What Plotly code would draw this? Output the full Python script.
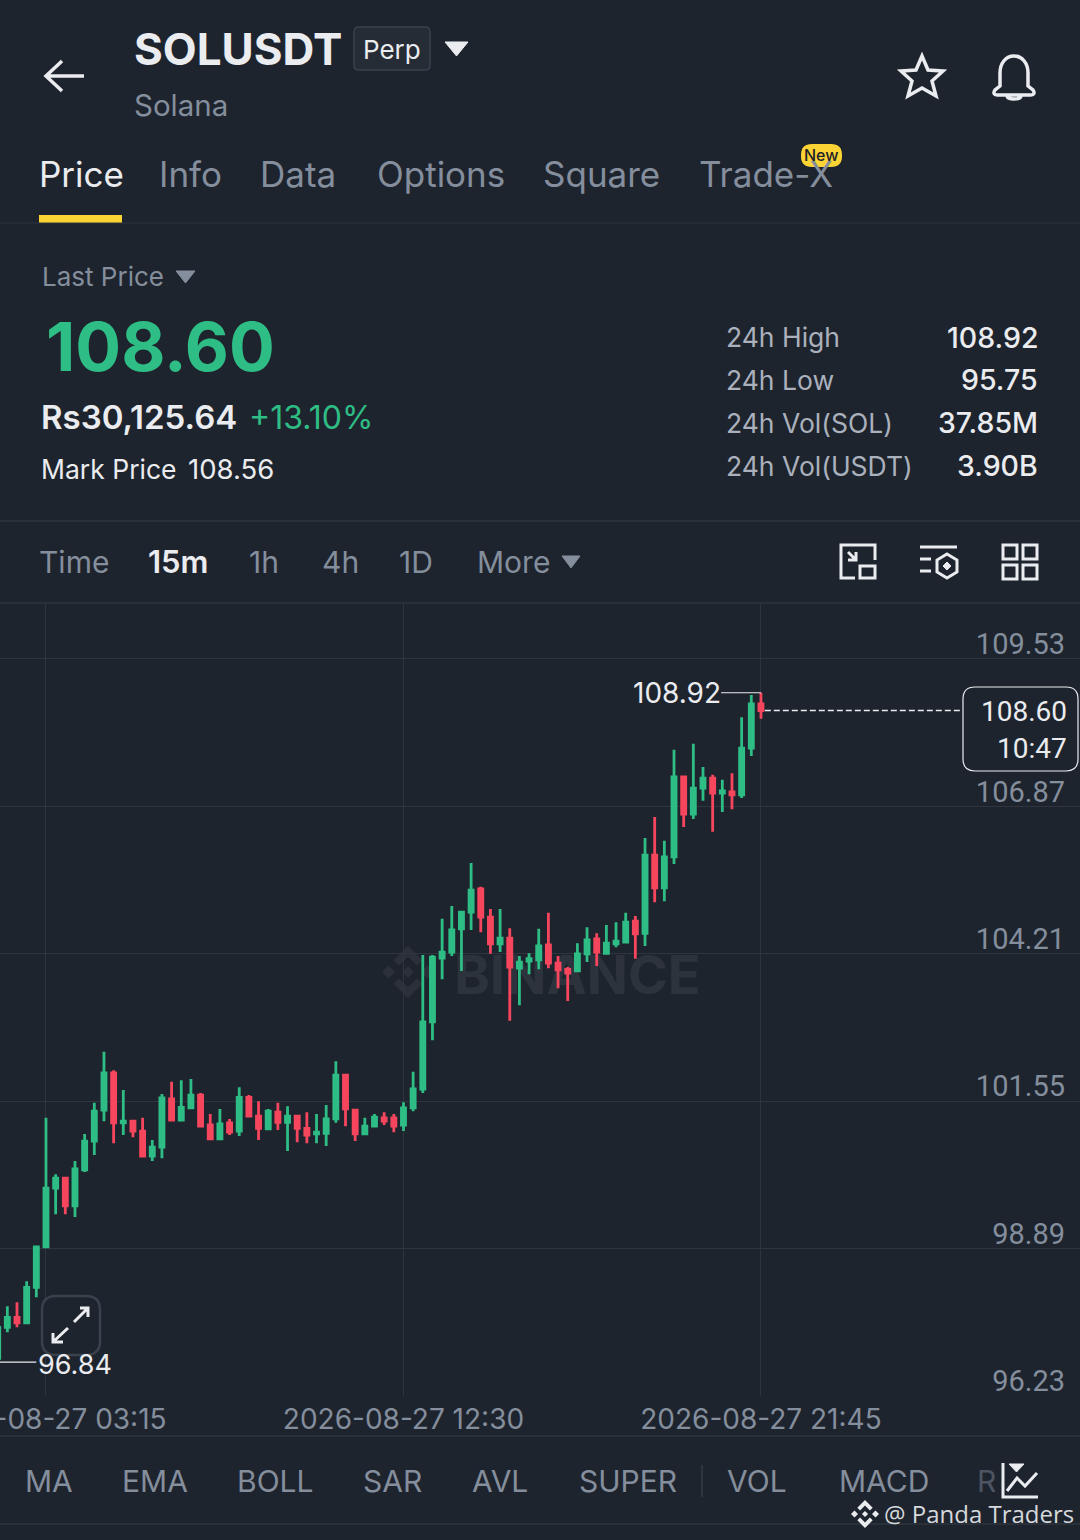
import re
import plotly.graph_objects as go
import pandas as pd

W, H = 1080, 1540
BG = "#1e242e"
GRID = "#2f353e"
GREEN = "#2ebd85"
RED = "#f6465d"
WHITE = "#eaecef"
GRAY = "#848e9c"
FONT = "Inter"

# 15m candles, first one opens at 02:00
start_time = "2026-08-27 02:00"
opens = [96.91, 97.47, 97.65, 97.55, 98.19, 98.92, 99.98, 100.16, 99.66, 100.31,
         100.83, 101.39, 102.06, 101.16, 101.19, 101.01, 100.56, 100.72, 101.59, 101.21,
         101.43, 101.66, 101.12, 100.87, 101.16, 101.01, 101.62, 101.28, 101.05, 101.35,
         101.17, 101.28, 101.06, 100.96, 100.97, 101.23, 102.02, 101.39, 100.96, 101.10,
         101.25, 101.25, 101.12, 101.43, 101.77, 102.98, 104.13, 104.24, 104.66, 104.96,
         105.38, 104.87, 104.39, 104.49, 103.95, 104.08, 104.10, 104.37, 104.04, 103.93,
         103.90, 104.21, 104.48, 104.22, 104.39, 104.42, 104.80, 104.58, 105.99, 105.40,
         105.96, 107.40, 106.73, 107.20, 107.38, 107.11, 107.13, 107.08, 107.92, 108.72]
highs = [97.60, 97.85, 97.92, 98.30, 98.92, 101.25, 100.23, 100.16, 100.47, 100.96,
         101.52, 102.44, 102.11, 101.75, 101.21, 101.25, 100.85, 101.68, 101.90, 101.93,
         101.95, 101.70, 101.32, 101.41, 101.23, 101.80, 101.66, 101.55, 101.41, 101.52,
         101.46, 101.30, 101.35, 101.32, 101.48, 102.27, 102.04, 101.41, 101.25, 101.32,
         101.35, 101.32, 101.53, 102.08, 104.19, 104.19, 104.84, 105.07, 104.96, 105.85,
         105.42, 105.02, 105.02, 104.67, 104.17, 104.22, 104.66, 104.95, 104.17, 103.97,
         104.40, 104.69, 104.58, 104.73, 104.78, 104.95, 104.89, 106.30, 106.68, 106.25,
         107.89, 107.40, 108.00, 107.58, 107.44, 107.35, 107.47, 108.48, 108.88, 108.92]
lows = [96.84, 97.38, 97.47, 97.55, 98.01, 98.92, 99.51, 99.51, 99.46, 100.27,
        100.58, 101.19, 100.79, 100.94, 100.90, 100.56, 100.47, 100.52, 101.21, 101.21,
        101.41, 101.08, 100.85, 100.85, 100.94, 100.92, 101.28, 100.85, 101.03, 101.03,
        100.65, 100.81, 100.79, 100.79, 100.74, 101.16, 101.10, 100.83, 100.96, 101.10,
        101.12, 100.99, 101.01, 101.37, 101.70, 102.65, 103.75, 104.17, 103.90, 104.64,
        104.60, 104.21, 104.24, 103.00, 103.28, 103.84, 103.93, 103.95, 103.59, 103.36,
        103.88, 104.06, 103.99, 104.22, 104.33, 104.42, 104.12, 104.35, 105.14, 105.16,
        105.83, 106.50, 106.64, 106.97, 106.41, 106.77, 106.82, 107.02, 107.78, 108.45]
closes = [97.47, 97.65, 97.55, 98.19, 98.92, 99.98, 100.16, 99.66, 100.33, 100.83,
          101.37, 102.06, 101.16, 101.19, 101.01, 100.56, 100.72, 101.61, 101.21, 101.44,
          101.66, 101.10, 100.87, 101.14, 100.99, 101.62, 101.28, 101.06, 101.37, 101.17,
          101.28, 101.06, 100.94, 100.99, 101.23, 102.02, 101.41, 100.96, 101.10, 101.26,
          101.19, 101.10, 101.43, 101.77, 102.98, 104.15, 104.24, 104.64, 104.96, 105.36,
          104.87, 104.39, 104.49, 103.97, 104.06, 104.12, 104.35, 104.04, 103.92, 103.86,
          104.21, 104.46, 104.24, 104.40, 104.44, 104.78, 104.57, 105.99, 105.40, 105.96,
          107.40, 106.73, 107.20, 107.38, 107.11, 107.15, 107.08, 107.92, 108.72, 108.60]

price_ticks = [109.53, 106.87, 104.21, 101.55, 98.89, 96.23]
time_ticks = ["2026-08-27 03:15", "2026-08-27 12:30", "2026-08-27 21:45"]

high_mark = 108.92
low_mark = 96.84
last_price = 108.60

tabs = [("Price", 40), ("Info", 160), ("Data", 261), ("Options", 378), ("Square", 544), ("Trade-X", 700)]
stats = [("24h High", "108.92"), ("24h Low", "95.75"), ("24h Vol(SOL)", "37.85M"), ("24h Vol(USDT)", "3.90B")]
intervals = [("Time", 40), ("15m", 149), ("1h", 250), ("4h", 323), ("1D", 400), ("More", 478)]
indicators = [("MA", 26), ("EMA", 123), ("BOLL", 238), ("SAR", 364), ("AVL", 473), ("SUPER", 580), ("VOL", 728), ("MACD", 840)]

times = pd.date_range(start_time, periods=len(opens), freq="15min")

annotations = []
shapes = []


def px_x(x):
    return x / W


def px_y(y):
    return 1 - y / H


def label(text, x, y, size, color=WHITE, anchor="left", weight=400, family=FONT):
    # annotation boxes carry about 2px of padding on the sides, 1px low
    if anchor == "left":
        x -= 2
    elif anchor == "right":
        x += 2
    annotations.append(dict(
        text=text, x=px_x(x), y=px_y(y - 1), xref="paper", yref="paper", showarrow=False,
        xanchor=anchor, yanchor="middle", borderpad=0,
        font=dict(family=family, size=size, color=color, weight=weight),
    ))


def to_paper(path):
    # path is written in page pixels, numbers alternate x, y
    count = [0]

    def repl(m):
        v = float(m.group(0))
        count[0] += 1
        return f"{px_x(v):.5f}" if count[0] % 2 == 1 else f"{px_y(v):.5f}"

    return re.sub(r"-?\d+\.?\d*", repl, path)


def icon(path, color=WHITE, width=3, fill=None, layer="above"):
    shapes.append(dict(
        type="path", path=to_paper(path), xref="paper", yref="paper", layer=layer,
        line=dict(color=color, width=width), fillcolor=fill or "rgba(0,0,0,0)",
    ))


def round_rect(x0, y0, x1, y1, r):
    return (f"M{x0 + r} {y0} L{x1 - r} {y0} Q{x1} {y0} {x1} {y0 + r} L{x1} {y1 - r} Q{x1} {y1} {x1 - r} {y1} "
            f"L{x0 + r} {y1} Q{x0} {y1} {x0} {y1 - r} L{x0} {y0 + r} Q{x0} {y0} {x0 + r} {y0} Z")


def hline(y, color=GRID, width=1.5, x0=0, x1=W):
    icon(f"M{x0} {y} L{x1} {y}", color=color, width=width)


def triangle(x0, x1, y0, y1, color):
    icon(f"M{x0} {y0} L{x1} {y0} L{(x0 + x1) / 2} {y1} Z", color=color, width=1, fill=color)


def binance_logo(cx, cy, s, color, layer="above"):
    parts = [
        [(0, -1), (0.55, -0.45), (0.35, -0.25), (0, -0.6), (-0.35, -0.25), (-0.55, -0.45)],
        [(0, 1), (0.55, 0.45), (0.35, 0.25), (0, 0.6), (-0.35, 0.25), (-0.55, 0.45)],
        [(-1, 0), (-0.75, -0.25), (-0.5, 0), (-0.75, 0.25)],
        [(1, 0), (0.75, -0.25), (0.5, 0), (0.75, 0.25)],
        [(0, -0.22), (0.22, 0), (0, 0.22), (-0.22, 0)],
    ]
    for part in parts:
        pts = [f"{cx + a * s:.1f} {cy + b * s:.1f}" for a, b in part]
        icon("M" + " L".join(pts) + " Z", color="rgba(0,0,0,0)", width=0, fill=color, layer=layer)


# header
icon("M84 76 L47 76 M62 61 L46 76 L62 91", width=3.5)
label("SOLUSDT", 135, 50, 44, weight=700)
icon(round_rect(354, 27, 430, 70, 5), color="#3a414c", width=1.5, fill="#262c36")
label("Perp", 392, 51, 26, anchor="center")
triangle(445, 468, 42, 56, WHITE)
label("Solana", 135, 106, 29.5, GRAY)
icon("M922 56 L928 70 L943 71 L932 81 L936 96 L922 88 L908 96 L912 81 L901 71 L916 70 Z", width=3.5)
icon("M1000 86 L1000 73 C1000 63 1006 56 1014 56 C1022 56 1028 63 1028 73 L1028 86 L1033 90 "
     "C1035 93 1034 95 1031 95 L997 95 C994 95 993 93 995 90 Z "
     "M1007 96 C1008 100 1020 100 1021 96", width=3.5)

for i, (name, x) in enumerate(tabs):
    label(name, x, 175, 35, WHITE if i == 0 else GRAY)
icon("M39 215 L122 215 L122 223 L39 223 Z", color="#fcd535", width=0, fill="#fcd535")
hline(223, width=1)
icon(round_rect(801, 144, 842, 167, 11), color="#fcd535", width=0, fill="#fcd535")
label("New", 821.5, 156, 16, "#1e2329", anchor="center", weight=500)

# price block
label("Last Price", 43, 278, 26, GRAY)
triangle(176, 195, 271, 283, GRAY)
label("108.60", 47, 347, 68, GREEN, weight=700)
label("Rs30,125.64", 42, 418, 33, WHITE, weight=600)
label("+13.10%", 250, 418, 32, GREEN)
label("Mark Price", 42, 470, 26.5)
label("108.56", 189, 470, 27.5)
for (name, value), y in zip(stats, [338, 381, 424, 467]):
    label(name, 727, y, 26.5, "#aab1bc")
    label(value, 1037, y, 28.5, WHITE, anchor="right", weight=500)

# interval row
hline(521)
for name, x in intervals:
    if name == "15m":
        label(name, x, 563, 31, WHITE, weight=600)
    else:
        label(name, x, 563, 30, GRAY)
triangle(562, 580, 556, 568, GRAY)
icon("M855 578 L841 578 L841 545 L875 545 L875 560 M860 566 L875 566 L875 578 L860 578 Z "
     "M848 552 L856 560 M856 552 L856 560 L848 560", width=3)
icon("M920 547 L957 547 M920 559 L931 559 M920 571 L931 571 "
     "M947 554 L957 560 L957 572 L947 578 L937 572 L937 560 Z", width=3)
icon("M947 562 L951 566 L947 570 L943 566 Z", width=1, fill=WHITE)
for x0 in [1003, 1023]:
    for y0 in [545, 565]:
        icon(f"M{x0} {y0} L{x0 + 14} {y0} L{x0 + 14} {y0 + 14} L{x0} {y0 + 14} Z", width=3)
hline(603)

# watermark under the candles
binance_logo(408, 972, 26, "rgba(255,255,255,0.06)", layer="below")
shapes.append(dict(
    type="line", xref="paper", yref="paper", x0=px_x(458), x1=px_x(697), y0=px_y(972), y1=px_y(972),
    layer="below", line=dict(width=0, color="rgba(0,0,0,0)"),
    label=dict(text="<b>BINANCE</b>", textposition="middle", yanchor="middle",
               font=dict(family=FONT, size=54, color="rgba(255,255,255,0.07)")),
))

# high / low / last markers
annotations.append(dict(
    text=f"{high_mark:.2f}", x=times[-1], y=high_mark, xref="x", yref="y", showarrow=False,
    xanchor="right", xshift=-38, yanchor="middle", font=dict(family=FONT, size=28, color=WHITE),
))
shapes.append(dict(type="line", xref="x", yref="y", x0=times[-1], x1=times[-5] - pd.Timedelta(minutes=2),
                   y0=high_mark, y1=high_mark, line=dict(color=WHITE, width=1.2)))
icon(round_rect(42, 1296, 100, 1355, 14), color="#3a414c", width=2.5, fill=BG)
icon("M74 1322 L88 1308 M80 1308 L88 1308 L88 1317 M68 1328 L53 1342 M53 1333 L53 1342 L63 1342", width=3)
# the low candle sits past the left edge, so the label hangs on a later candle
annotations.append(dict(
    text=f"{low_mark:.2f}", x=times[4], y=low_mark, xref="x", yref="y", showarrow=False,
    xanchor="left", xshift=0, yshift=-2, yanchor="middle", font=dict(family=FONT, size=27, color=WHITE),
))
shapes.append(dict(type="line", xref="x", yref="y", x0=times[0], x1=times[4], y0=low_mark, y1=low_mark,
                   line=dict(color=WHITE, width=1.2)))
shapes.append(dict(type="line", xref="x", yref="y", x0=pd.Timestamp(times[-1]) + pd.Timedelta(minutes=6),
                   x1=pd.Timestamp(times[-1]) + pd.Timedelta(hours=5, minutes=9),
                   y0=last_price, y1=last_price, line=dict(color=WHITE, width=1.5, dash="6px,3px")))
icon(round_rect(963, 687, 1078, 771, 12), color=WHITE, width=1.2, fill=BG)
label(f"{last_price:.2f}", 1066, 712, 28, anchor="right", family="Roboto")
label("10:47", 1066, 749, 28, anchor="right", family="Roboto")

# indicator row
hline(1436)
for name, x in indicators:
    label(name, x, 1482, 30, GRAY)
label("R", 978, 1482, 30, "#4d5562")
icon("M702 1465 L702 1497", color=GRID, width=2)
icon("M1003 1463 L1003 1497 L1038 1497 M1007 1491 L1017 1478 L1025 1486 L1037 1473", width=3)
icon("M1009 1464 L1024 1464 L1016.5 1472 Z", width=1, fill=WHITE)
hline(1524)
binance_logo(865, 1514, 14, WHITE)
label("@ Panda Traders", 885, 1514, 24, "#d5d8dc", family="Open Sans")

fig = go.Figure(go.Candlestick(
    x=times, open=opens, high=highs, low=lows, close=closes,
    increasing=dict(line=dict(color=GREEN, width=2.8), fillcolor=GREEN),
    decreasing=dict(line=dict(color=RED, width=2.8), fillcolor=RED),
    whiskerwidth=0, showlegend=False,
))

fig.update_layout(
    width=W, height=H,
    margin=dict(l=0, r=0, t=0, b=0, pad=0, autoexpand=False),
    paper_bgcolor=BG, plot_bgcolor=BG,
    boxgap=0.4,
    showlegend=False,
    annotations=annotations,
    shapes=shapes,
    xaxis=dict(
        type="date", domain=[0, 1],
        range=["2026-08-27 02:03:36", "2026-08-28 06:00:18"],
        rangeslider=dict(visible=False),
        tickmode="array", tickvals=time_ticks, ticktext=time_ticks,
        showgrid=True, gridcolor=GRID, gridwidth=1.2, zeroline=False, showline=False,
        ticks="", ticklabelstandoff=4, ticklabeloverflow="allow", automargin=False,
        tickfont=dict(family=FONT, size=28, color=GRAY),
    ),
    yaxis=dict(
        domain=[px_y(1396), px_y(603)],
        range=[96.23, 110.54],
        side="right",
        tickmode="array", tickvals=price_ticks, ticktext=[f"{p:.2f}" for p in price_ticks],
        showgrid=True, gridcolor=GRID, gridwidth=1.2, zeroline=False, showline=False,
        ticks="", ticklabelposition="inside", ticklabelstandoff=12, ticklabelshift=-15,
        ticklabeloverflow="allow", automargin=False,
        tickfont=dict(family="Roboto", size=29, color=GRAY),
    ),
)

fig.write_html("out.html", config={"displayModeBar": False}, post_script="document.body.style.margin='0';")
